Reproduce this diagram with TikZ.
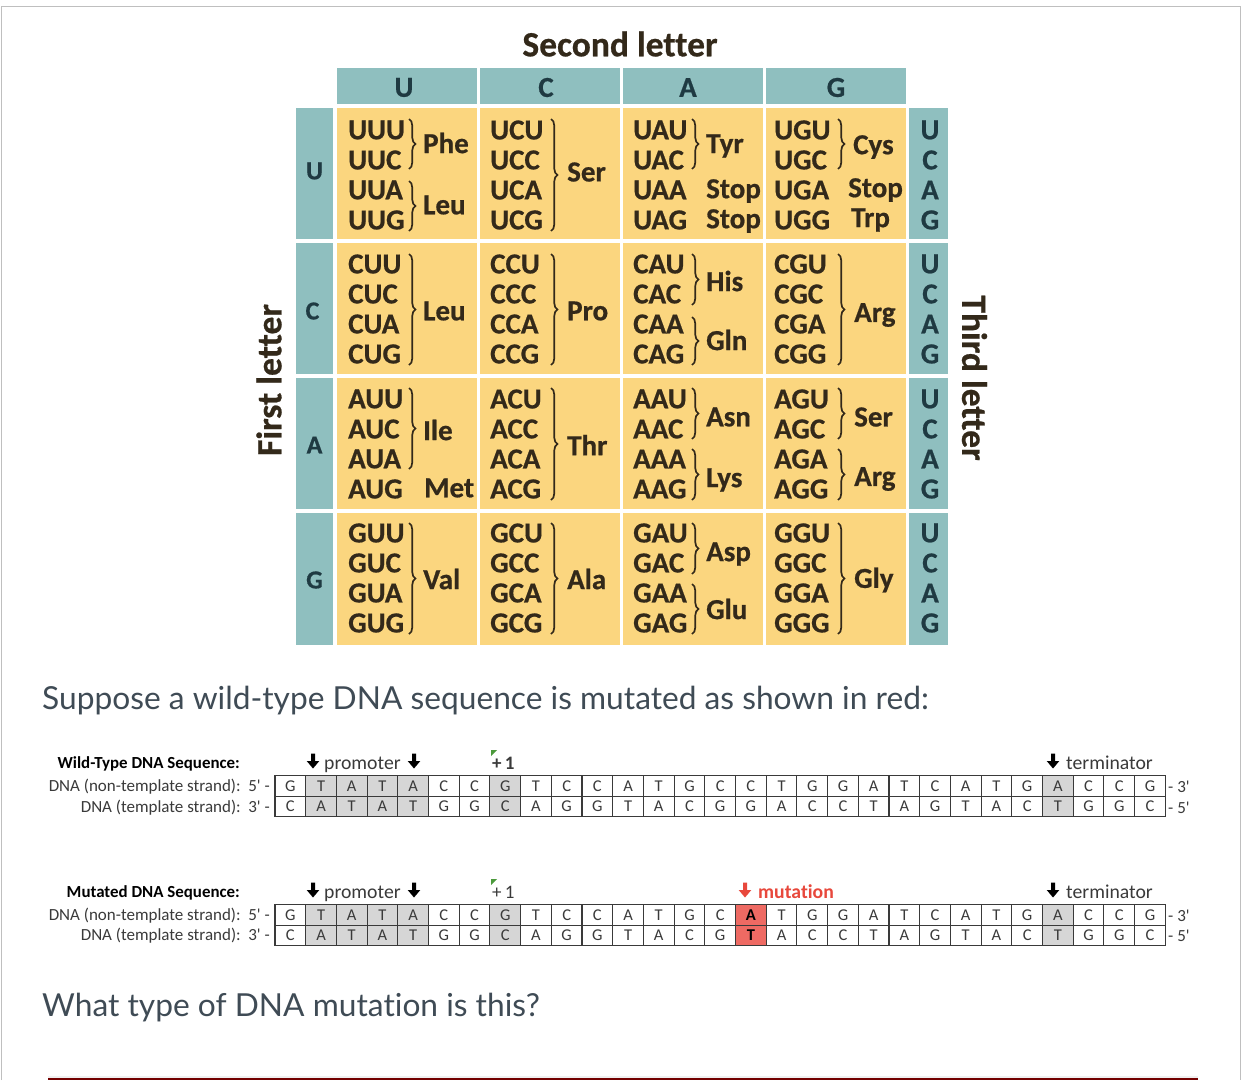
\documentclass[tikz,border=0pt]{standalone}
\usepackage{fontspec}
\setmainfont{Carlito}[Ligatures=CommonOff]
\newfontfamily\latofont{Lato}[Ligatures=CommonOff]
\newfontfamily\plainfont{Carlito}[Ligatures=CommonOff]
\newfontfamily\heavyfont{Carlito}[Ligatures=CommonOff,BoldFeatures={FakeBold=0.6}]
\usetikzlibrary{decorations.pathreplacing}
\definecolor{teal}{HTML}{8FBFBF}
\definecolor{sand}{HTML}{FBD67F}
\definecolor{ink}{HTML}{33291A}
\definecolor{tealink}{HTML}{1F3A42}
\definecolor{slateink}{HTML}{3F4B55}
\definecolor{graycell}{HTML}{D6D6D6}
\definecolor{redcell}{HTML}{EE6A63}
\definecolor{redtxt}{HTML}{E8483C}
\definecolor{seqink}{HTML}{3A3A3A}
\definecolor{flag}{HTML}{4C9A3C}
\newcommand{\fsz}[1]{\fontsize{#1}{#1}\selectfont}
\newcommand{\dnarrow}[3]{\fill[#3,shift={(#1,#2)}] (-2,-7.5)--(2,-7.5)--(2,0)--(6.3,0)--(0,7.5)--(-6.3,0)--(-2,0)--cycle;}
\tikzset{
  x=1pt,y=-1pt,
  headtxt/.style={text=tealink,font=\heavyfont\fsz{29}\bfseries},
  codon/.style={anchor=west,inner sep=0pt,text=ink,font=\heavyfont\fsz{29}\bfseries},
  amino/.style={anchor=west,inner sep=0pt,text=ink,font=\heavyfont\fsz{29}\bfseries},
  bracket/.style={draw=ink,line width=1.7pt,decorate,decoration={brace,amplitude=6.5pt,aspect=0.5}},
  title/.style={inner sep=0pt,text=ink,font=\heavyfont\fsz{35.5}\bfseries},
  question/.style={anchor=west,inner sep=0pt,text=slateink,font=\latofont\fsz{31.7}},
  seqlabel/.style={anchor=east,inner sep=0pt,text=seqink,font=\plainfont\fsz{17}},
  seqbold/.style={anchor=east,inner sep=0pt,text=black,font=\plainfont\fsz{16.9}\bfseries},
  seqnote/.style={anchor=west,inner sep=0pt,text=seqink,font=\plainfont\fsz{19.7}},
  basecell/.style={draw=seqink,line width=1.1pt,fill=white,minimum width=30.7pt,minimum height=20.5pt,inner sep=0pt,text=seqink,font=\plainfont\fsz{16.5}},
  cf2/.style={fill=graycell},cf3/.style={fill=graycell},cf4/.style={fill=graycell},cf5/.style={fill=graycell},
  cf8/.style={fill=graycell},cf26/.style={fill=graycell},
  ma16/.style={fill=redcell,font=\plainfont\fsz{16.5}\bfseries,text=black},
  mb16/.style={fill=redcell,font=\plainfont\fsz{16.5}\bfseries,text=black},
}
\newcommand{\dnarow}[3]{%
  \foreach \b [count=\i] in {#3} {
    \node[basecell,cf\i/.try,#1\i/.try] (#1\i) at ({275+30.7*(\i-0.5)},#2) {\b};
  }
}
\begin{document}
\begin{tikzpicture}
\useasboundingbox (0,0) rectangle (1246,1080);
\fill[white] (0,0) rectangle (1246,1080);
\draw[draw=black!25,line width=1pt] (1.5,1080) -- (1.5,6) -- (1240.5,6) -- (1240.5,1080);
\fill[black!6!white] (48,1076) rectangle (1198,1078);
\fill[red!45!black] (48,1078) rectangle (1198,1080);

% headers
\node[title] (second) at (620,44) {Second letter};
\node[title,rotate=90] (first) at (269,380) {First letter};
\node[title,rotate=-90] (third) at (974.5,378) {Third letter};

\foreach \xa/\xb/\tx/\t [count=\i] in {337/477/404/U,480/620/546/C,623/763/688/A,766/906/836/G} {
  \fill[teal] (\xa,68) rectangle (\xb,104);
  \node[headtxt] (top\i) at (\tx,87.5) {\t};
}
\foreach \ya/\yb/\tx/\ty/\t [count=\i] in {108/239/314.5/171/U,243/374/312.5/311/C,378/509/314.5/445/A,513/645/314.5/580/G} {
  \fill[teal] (296,\ya) rectangle (333,\yb);
  \node[headtxt,font=\heavyfont\fsz{26}\bfseries] (left\i) at (\tx,\ty) {\t};
  \fill[teal] (909,\ya) rectangle (948,\yb);
  \foreach \xa/\xb in {337/477,480/620,623/763,766/906} \fill[sand] (\xa,\ya) rectangle (\xb,\yb);
}
\foreach \y/\t [count=\i] in {130/U,160/C,190/A,220/G,264/U,294/C,324/A,354/G,399/U,429/C,459/A,489/G,533/U,563/C,593/A,623/G} {
  \node[headtxt] (third\i) at (930,\y) {\t};
}

% codons
\foreach \x/\first/\second in {348/U/U,490/U/C,633/U/A,774/U/G} {
  \foreach \y/\third in {130/U,160/C,190/A,220/G}
    \node[codon] at (\x,\y) {\first\second\third};
}
\foreach \x/\second in {348/U,490/C,633/A,774/G} {
  \foreach \y/\third in {264/U,294/C,324/A,354/G}
    \node[codon] at (\x,\y) {C\second\third};
  \foreach \y/\third in {399/U,429/C,459/A,489/G}
    \node[codon] at (\x,\y) {A\second\third};
  \foreach \y/\third in {533/U,563/C,593/A,623/G}
    \node[codon] at (\x,\y) {G\second\third};
}

% braces: x / top / bottom
\foreach \x/\ya/\yb in {
  409/119/169, 409/181/231, 409/254/365, 409/388/469, 409/523/634,
  551/119/231, 551/254/365, 551/388/500, 551/523/634,
  692/119/169, 692/254/305, 692/317/365, 692/388/439, 692/449/500, 692/523/574, 692/584/634,
  838/119/169, 838/254/365, 838/388/439, 838/449/500, 838/523/634}
  \draw[bracket] (\x,\ya) -- (\x,\yb);

% amino acids
\foreach \x/\y/\t in {
  423/143/Phe, 423/205/Leu, 567/172/Ser, 706/146/Tyr, 706/191/Stop, 706/221/Stop, 853/147/Cys, 848/190/Stop, 851/220/Trp,
  423/311/Leu, 567/311/Pro, 706/281/His, 706/340/Gln, 854/315/Arg,
  423/430/Ile, 424/488/Met, 567/445/Thr, 706/417/Asn, 706/480/Lys, 854/417/Ser, 854/479/Arg,
  423/579/Val, 567/579/Ala, 706/554/Asp, 706/609/Glu, 854/580/Gly}
  \node[amino] at (\x,\y) {\t};

% questions
\node[question] (q1) at (42,701) {Suppose a wild-type DNA sequence is mutated as shown in red:};
\node[question] (q2) at (42,1008) {What type of DNA mutation is this?};

% wild type
\node[seqbold] (wt) at (240,764) {Wild-Type DNA Sequence:};
\node[seqlabel] (wa) at (270,787) {DNA (non-template strand):\ \ 5' -};
\node[seqlabel] (wb) at (270,807.5) {DNA (template strand):\ \ 3' -};
\dnarow{wa}{786}{G,T,A,T,A,C,C,G,T,C,C,A,T,G,C,C,T,G,G,A,T,C,A,T,G,A,C,C,G}
\dnarow{wb}{806.5}{C,A,T,A,T,G,G,C,A,G,G,T,A,C,G,G,A,C,C,T,A,G,T,A,C,T,G,G,C}
\node[seqlabel,anchor=west] (wa3) at (1168,787) {- 3'};
\node[seqlabel,anchor=west] (wb5) at (1168,807.5) {- 5'};
\dnarrow{313}{761}{black}
\node[seqnote] (wp) at (324,764.5) {promoter};
\dnarrow{414}{761}{black}
\fill[flag] (491,750)--(497,750)--(491,756)--cycle;
\node[seqnote,font=\plainfont\fsz{19}\bfseries] (wplus) at (492,763) {+\,1};
\dnarrow{1053}{761}{black}
\node[seqnote] (wterm) at (1066,763) {terminator};

% mutated
\node[seqbold] (mt) at (240,893) {Mutated DNA Sequence:};
\node[seqlabel] (ma) at (270,915.5) {DNA (non-template strand):\ \ 5' -};
\node[seqlabel] (mb) at (270,936) {DNA (template strand):\ \ 3' -};
\dnarow{ma}{915}{G,T,A,T,A,C,C,G,T,C,C,A,T,G,C,A,T,G,G,A,T,C,A,T,G,A,C,C,G}
\dnarow{mb}{935.5}{C,A,T,A,T,G,G,C,A,G,G,T,A,C,G,T,A,C,C,T,A,G,T,A,C,T,G,G,C}
\node[seqlabel,anchor=west] (ma3) at (1168,915.5) {- 3'};
\node[seqlabel,anchor=west] (mb5) at (1168,936) {- 5'};
\dnarrow{313}{890}{black}
\node[seqnote] (mp) at (324,893.5) {promoter};
\dnarrow{414}{890}{black}
\fill[flag] (491,879)--(497,879)--(491,885)--cycle;
\node[seqnote,font=\plainfont\fsz{19}] (mplus) at (492,892) {+\,1};
\dnarrow{745}{890}{redtxt}
\node[seqnote,text=redtxt,font=\plainfont\fsz{19.7}\bfseries] (mmut) at (758,892) {mutation};
\dnarrow{1053}{890}{black}
\node[seqnote] (mterm) at (1066,892) {terminator};
\end{tikzpicture}
\end{document}
